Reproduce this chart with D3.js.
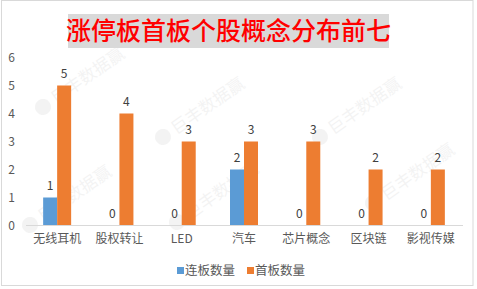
<!DOCTYPE html>
<html><head><meta charset="utf-8">
<script src="https://cdnjs.cloudflare.com/ajax/libs/d3/7.8.5/d3.min.js"></script>
<style>html,body{margin:0;padding:0;background:#fff;} svg{display:block;}</style>
</head><body>
<script>
const title = "涨停板首板个股概念分布前七";
const categories = ["无线耳机","股权转让","LED","汽车","芯片概念","区块链","影视传媒"];
const seriesNames = ["连板数量","首板数量"];
const lianban = [1,0,0,2,0,0,0];
const shouban = [5,4,3,3,3,2,2];
const yTicks = [0,1,2,3,4,5,6];
const colors = ["#5B9BD5","#ED7D31"];
const watermarkText = "巨丰数据赢";

const W = 477, H = 289;
const svg = d3.select("body").append("svg").attr("width", W).attr("height", H);
svg.append("rect").attr("x",0).attr("y",0).attr("width",W).attr("height",H).attr("fill","#fff");
svg.append("rect").attr("x",1.5).attr("y",0.5).attr("width",471.5).attr("height",285)
  .attr("fill","none").attr("stroke","#d9d9d9").attr("stroke-width",1);

const font = "'Noto Sans CJK SC','Microsoft YaHei',sans-serif";

// watermarks (faint)
const wm = [[43,107],[163,137],[320,137],[30,225],[177,222],[373,203]];
wm.forEach(([x,y])=>{
  const g = svg.append("g").attr("transform",`translate(${x},${y}) rotate(-35)`).attr("opacity",0.045);
  g.append("circle").attr("cx",0).attr("cy",0).attr("r",8).attr("fill","#000");
  g.append("text").attr("x",12).attr("y",6).attr("font-family",font).attr("font-size",17)
    .attr("fill","#000").text(watermarkText);
});

const y = d3.scaleLinear().domain([0,6]).range([225.5,57.5]);
const x = d3.scaleBand().domain(categories).range([26,462]).padding(0);
const sub = d3.scaleBand().domain(seriesNames).range([x.bandwidth()/2-14, x.bandwidth()/2+14]).padding(0);

// bars
const data = categories.map((c,i)=>({c, vals:[lianban[i], shouban[i]]}));
const gcat = svg.selectAll("g.cat").data(data).enter().append("g")
  .attr("transform", d=>`translate(${x(d.c)},0)`);
seriesNames.forEach((s,si)=>{
  gcat.append("rect")
    .attr("x", sub(s)).attr("width", sub.bandwidth())
    .attr("y", d=>y(d.vals[si])).attr("height", d=>y(0)-y(d.vals[si]))
    .attr("fill", colors[si]);
  gcat.append("text")
    .attr("x", sub(s)+sub.bandwidth()/2).attr("y", d=>y(d.vals[si])-8)
    .attr("text-anchor","middle").attr("font-family",font).attr("font-size",12)
    .attr("fill","#404040").text(d=>d.vals[si]);
});

// x axis line
const xAxis = d3.axisBottom(x).tickSize(0).tickPadding(9);
const gx = svg.append("g").attr("transform",`translate(0,${y(0)})`).call(xAxis);
gx.select(".domain").attr("stroke","#d9d9d9").attr("d",`M26,0H463`);
gx.selectAll("text").attr("font-family",font).attr("font-size",12).attr("fill","#595959");

// y axis labels
const yAxis = d3.axisLeft(y).tickValues(yTicks).tickFormat(d3.format("d")).tickSize(0).tickPadding(0);
const gy = svg.append("g").attr("transform","translate(15,0)").call(yAxis);
gy.select(".domain").remove();
gy.selectAll("text").attr("font-family",font).attr("font-size",12).attr("fill","#595959");

// title
svg.append("rect").attr("x",68).attr("y",14).attr("width",321).attr("height",34).attr("fill","#d9d9d9");
svg.append("text").attr("x",228.5).attr("y",40).attr("text-anchor","middle")
  .attr("font-family",font).attr("font-size",25).attr("font-weight",500)
  .attr("fill","#ff0000").text(title);

// legend
const legX = [177, 247];
seriesNames.forEach((s,i)=>{
  svg.append("rect").attr("x",legX[i]).attr("y",267).attr("width",7).attr("height",7).attr("fill",colors[i]);
  svg.append("text").attr("x",legX[i]+8).attr("y",275).attr("font-family",font).attr("font-size",12.5)
    .attr("fill","#595959").text(s);
});
</script>
</body></html>
